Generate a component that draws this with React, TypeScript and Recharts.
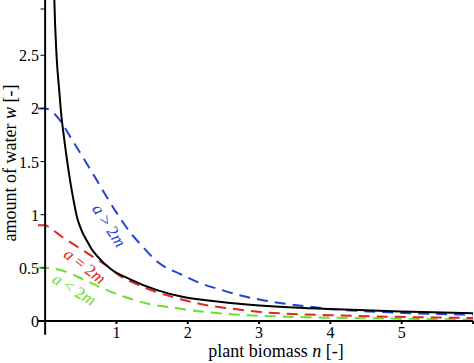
import { LineChart, Line, XAxis, YAxis, ReferenceDot, ReferenceLine, Label } from "recharts";

// plant biomass n and water w
const blackN = [0.12, 0.13, 0.16, 0.2, 0.225, 0.26, 0.31, 0.4, 0.45, 0.5, 0.59, 0.64, 0.73, 0.92, 1.2, 1.57, 1.94, 2.32, 2.83, 3.48, 4.1, 5, 6];
const blackW = [3.3, 3.0, 2.5, 2.15, 1.95, 1.75, 1.5, 1.13, 0.97, 0.87, 0.75, 0.69, 0.61, 0.49, 0.39, 0.29, 0.225, 0.19, 0.155, 0.127, 0.11, 0.09, 0.072];

const blueN = [-0.1, 0, 0.08, 0.17, 0.4, 0.64, 0.87, 1.0, 1.1, 1.22, 1.34, 1.57, 1.9, 2.2, 2.46, 2.74, 3.02, 3.34, 3.67, 3.95, 4.88, 5.78, 6];
const blueW = [2.0, 2.0, 1.98, 1.92, 1.68, 1.42, 1.16, 1.02, 0.92, 0.81, 0.72, 0.56, 0.44, 0.35, 0.295, 0.24, 0.2, 0.165, 0.137, 0.117, 0.08, 0.062, 0.058];

const redN = [-0.1, 0, 0.08, 0.22, 0.45, 0.68, 0.82, 1.06, 1.34, 1.57, 1.85, 2.18, 2.69, 3.02, 3.62, 4.1, 5.16, 5.8, 6];
const redW = [0.9, 0.9, 0.87, 0.8, 0.7, 0.6, 0.54, 0.42, 0.33, 0.27, 0.215, 0.16, 0.11, 0.085, 0.062, 0.052, 0.036, 0.03, 0.028];

const greenN = [-0.1, 0, 0.1, 0.26, 0.54, 0.8, 1.1, 1.43, 1.8, 2.18, 2.64, 3.2, 3.8, 4.46, 5.72, 6];
const greenW = [0.5, 0.5, 0.495, 0.47, 0.39, 0.31, 0.23, 0.165, 0.125, 0.09, 0.062, 0.045, 0.033, 0.027, 0.015, 0.013];

const xTicks = [1, 2, 3, 4, 5, 6];
const xLabelled = [1, 2, 3, 4, 5];
const yTicks = [0, 0.5, 1, 1.5, 2, 2.5, 3];
const yLabelled = [0, 0.5, 1, 1.5, 2, 2.5];

const toRows = (ns: number[], ws: number[]) => ns.map((n, i) => ({ n, w: ws[i] }));

const FONT = "'Liberation Serif', 'DejaVu Serif', serif";
const BLUE = "#2340d8";
const RED = "#e3251c";
const GREEN = "#6ee02a";
const DASH = "11 7";

function curveLabel(main: string, op: string, color: string, angle: number) {
  return (props: any) => {
    const { x, y } = props.viewBox;
    return (
      <text
        x={x}
        y={y}
        fill={color}
        style={{ fontFamily: FONT }}
        fontSize={17}
        textAnchor="middle"
        dominantBaseline="central"
        transform={`rotate(${angle}, ${x}, ${y})`}
      >
        <tspan fontStyle="italic">{main}</tspan>
        <tspan> {op} 2</tspan>
        <tspan fontStyle="italic">m</tspan>
      </text>
    );
  };
}

const XTick = (props: any) =>
  xLabelled.includes(props.payload.value) ? (
    <text x={props.x} y={props.y + 12} textAnchor="middle" style={{ fontFamily: FONT }} fontSize={16} fill="#000">
      {props.payload.value}
    </text>
  ) : (
    <g />
  );

const YTick = (props: any) => (
  <g>
    <line x1={props.x + 2.5} x2={props.x + 6.5} y1={props.y} y2={props.y} stroke="#000" strokeWidth={1} />
    {yLabelled.includes(props.payload.value) && (
      <text x={props.x + 1} y={props.y + 6} textAnchor="end" style={{ fontFamily: FONT }} fontSize={16} fill="#000">
        {props.payload.value}
      </text>
    )}
  </g>
);

export default function App() {
  return (
    <div style={{ position: "absolute", left: 0, top: 0, background: "#fff", fontFamily: FONT }}>
      <LineChart width={474} height={363} margin={{ top: 0, right: 1, left: 0, bottom: 0 }}>
        <XAxis
          type="number"
          dataKey="n"
          domain={[-0.1, 6]}
          ticks={xTicks}
          allowDataOverflow
          height={42}
          stroke="#000"
          strokeWidth={2}
          tickSize={3}
          tickMargin={2}
          tick={<XTick />}
        >
          <Label
            content={(props: any) => {
              const vb = props.viewBox;
              return (
                <text x={276} y={vb.y + 36} style={{ fontFamily: FONT }} fontSize={18} textAnchor="middle" fill="#000">
                  plant biomass <tspan fontStyle="italic">n</tspan> [-]
                </text>
              );
            }}
          />
        </XAxis>
        <YAxis
          type="number"
          dataKey="w"
          domain={[0, 3.02]}
          ticks={yTicks}
          allowDataOverflow
          width={38}
          axisLine={false}
          tickLine={false}
          tickSize={0}
          tickMargin={0}
          tick={<YTick />}
        >
          <Label
            content={(props: any) => {
              const vb = props.viewBox;
              const cx = 16;
              const cy = vb.y + 163;
              return (
                <text
                  x={cx}
                  y={cy}
                  style={{ fontFamily: FONT }}
                  fontSize={18}
                  textAnchor="middle"
                  fill="#000"
                  transform={`rotate(-90, ${cx}, ${cy})`}
                >
                  amount of water <tspan fontStyle="italic">w</tspan> [-]
                </text>
              );
            }}
          />
        </YAxis>
        <Line
          data={toRows(greenN, greenW)}
          dataKey="w"
          type="monotone"
          stroke={GREEN}
          strokeWidth={2}
          strokeDasharray={DASH}
          dot={false}
          isAnimationActive={false}
        />
        <Line
          data={toRows(redN, redW)}
          dataKey="w"
          type="monotone"
          stroke={RED}
          strokeWidth={2}
          strokeDasharray={DASH}
          dot={false}
          isAnimationActive={false}
        />
        <Line
          data={toRows(blueN, blueW)}
          dataKey="w"
          type="monotone"
          stroke={BLUE}
          strokeWidth={2}
          strokeDasharray={DASH}
          dot={false}
          isAnimationActive={false}
        />
        <Line
          data={toRows(blackN, blackW)}
          dataKey="w"
          type="monotone"
          stroke="#000"
          strokeWidth={2}
          dot={false}
          isAnimationActive={false}
        />
        <ReferenceLine
          segment={[{ x: 0, y: 3.02 }, { x: 0, y: -0.13 }]}
          stroke="#000"
          strokeWidth={2}
          ifOverflow="visible"
        />
        <ReferenceDot x={0.9} y={0.9} r={0} stroke="none" label={curveLabel("a", ">", BLUE, 57)} />
        <ReferenceDot x={0.56} y={0.52} r={0} stroke="none" label={curveLabel("a", "=", RED, 37)} />
        <ReferenceDot x={0.41} y={0.3} r={0} stroke="none" label={curveLabel("a", "<", GREEN, 31)} />
      </LineChart>
    </div>
  );
}
